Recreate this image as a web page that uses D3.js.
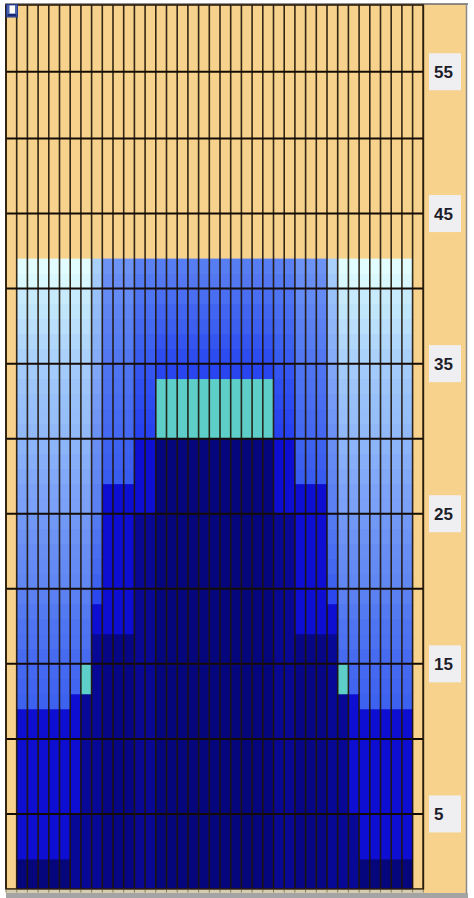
<!DOCTYPE html>
<html>
<head>
<meta charset="utf-8">
<script src="https://cdn.jsdelivr.net/npm/d3@7/dist/d3.min.js"></script>
<style>
  html, body { margin: 0; padding: 0; background: #ffffff; }
  svg { display: block; }
</style>
</head>
<body>
<svg id="chart" width="474" height="898"></svg>
<script>
// ---- data ---------------------------------------------------------------
// Grid: 39 columns (0 and 38 stay empty), heights in units 0..60.
const columnCount = 39;
const yTicksLabelled = [5, 15, 25, 35, 45, 55];
const yGridLines = [5, 10, 15, 20, 25, 30, 35, 40, 45, 50, 55];

// Level per unit row for the graded upper zones (0 = navy ... 10 = pale cyan)
const rampOuter = [3.0, 3.1, 3.2, 3.3, 3.5, 3.6, 3.8, 4.0, 4.3, 4.4,
                   4.6, 4.8, 5.0, 5.3, 5.4, 5.6, 5.8, 6.0, 6.2, 6.4,
                   6.5, 6.7, 6.9, 7.2, 7.5, 7.8, 8.1, 8.4, 9.3, 9.8];   // rows 12..41
const rampCol8  = [2.2, 3.0, 3.2, 3.4, 3.6, 3.8, 4.0, 4.1, 4.3, 4.4,
                   4.6, 4.7, 4.9, 5.1, 5.3, 5.5, 5.7, 5.9, 6.1, 6.3,
                   6.5, 6.9, 7.2];                                      // rows 19..41
const rampMid   = [2.8, 2.9, 3.0, 3.2, 3.3, 3.4, 3.5, 3.6, 3.7, 3.9,
                   4.0, 4.2, 4.4, 4.6, 4.8];                            // rows 27..41
const rampInner = [2.0, 2.1, 2.3, 2.4, 2.6, 2.8, 3.0, 3.2, 3.4, 3.6,
                   3.8, 4.0];                                           // rows 30..41
const rampCore  = [2.1, 2.3, 2.6, 2.9, 3.1, 3.4, 3.7, 3.9];             // rows 34..41

// Column stacks, bottom to top: solid levels or graded ramps
const stackOuter = [{from: 0, to: 2, level: 0}, {from: 2, to: 12, level: 1}, {from: 12, ramp: rampOuter}];
const stackCol6  = [{from: 0, to: 5, level: 0.3}, {from: 5, to: 13, level: 1}, {from: 13, ramp: rampOuter.slice(1)}];
const stackCol7  = [{from: 0, to: 13, level: 0.3}, {from: 13, to: 15, level: "teal"}, {from: 15, ramp: rampOuter.slice(3)}];
const stackCol8  = [{from: 0, to: 17, level: 0.3}, {from: 17, to: 19, level: 1}, {from: 19, ramp: rampCol8}];
const stackMid   = [{from: 0, to: 17, level: 0.1}, {from: 17, to: 27, level: 1}, {from: 27, ramp: rampMid}];
const stackInner = [{from: 0, to: 25, level: 0.25}, {from: 25, to: 30, level: 1}, {from: 30, ramp: rampInner}];
const stackCore  = [{from: 0, to: 30, level: 0}, {from: 30, to: 34, level: "teal"}, {from: 34, ramp: rampCore}];

// Columns 1..19 (the right half, 20..37, mirrors these)
const halfColumns = [stackOuter, stackOuter, stackOuter, stackOuter, stackOuter,
                     stackCol6, stackCol7, stackCol8,
                     stackMid, stackMid, stackMid,
                     stackInner, stackInner,
                     stackCore, stackCore, stackCore, stackCore, stackCore, stackCore];

// ---- colours ------------------------------------------------------------
const tan = "#f6d28c";
const teal = "#5ecfc8";
const levelColor = d3.scaleLinear()
  .domain([0, 1, 2, 3, 4, 5, 6, 7, 8, 9, 10])
  .range(["#06067c", "#0e0ed2", "#2642f0", "#3e62f0", "#5a80f2", "#7298f6",
          "#8cb4f8", "#a4ccfa", "#bee4fc", "#d4f6fe", "#e4ffff"])
  .interpolate(d3.interpolateRgb);

// ---- scales -------------------------------------------------------------
const x = d3.scaleLinear().domain([0, columnCount]).range([6, 423.3]);
const y = d3.scaleLinear().domain([0, 50, 60]).range([889, 138.5, 5]);

const svg = d3.select("#chart");

// panel background and frame
svg.append("rect").attr("x", 6).attr("y", 4).attr("width", 461).attr("height", 889).attr("fill", tan);
svg.append("line").attr("x1", 5).attr("x2", 468).attr("y1", 4).attr("y2", 4)
  .attr("stroke", "#6a6a6a").attr("stroke-width", 1.5);
svg.append("line").attr("x1", 466.5).attr("x2", 466.5).attr("y1", 4).attr("y2", 893)
  .attr("stroke", "#8a8a8a").attr("stroke-width", 1.5);

// ---- cells --------------------------------------------------------------
const cells = [];
for (let c = 1; c < columnCount - 1; c++) {
  const stack = halfColumns[Math.min(c, columnCount - 1 - c) - 1];
  stack.forEach(seg => {
    if (seg.ramp) {
      seg.ramp.forEach((lv, i) => cells.push({col: c, u0: seg.from + i, u1: seg.from + i + 1, level: lv}));
    } else {
      cells.push({col: c, u0: seg.from, u1: seg.to, level: seg.level});
    }
  });
}

svg.append("g").selectAll("rect").data(cells).join("rect")
  .attr("x", d => x(d.col))
  .attr("width", d => x(d.col + 1) - x(d.col) + 0.3)
  .attr("y", d => y(d.u1))
  .attr("height", d => y(d.u0) - y(d.u1) + 0.4)
  .attr("fill", d => d.level === "teal" ? teal : levelColor(d.level));

// ---- grid ---------------------------------------------------------------
const grid = svg.append("g");
grid.selectAll("line.v").data(d3.range(0, columnCount + 1)).join("line")
  .attr("class", "v")
  .attr("x1", d => x(d)).attr("x2", d => x(d))
  .attr("y1", y(60)).attr("y2", y(0))
  .attr("stroke", "#1e1408").attr("stroke-width", 1.6).attr("stroke-opacity", 0.9);
grid.selectAll("line.h").data(yGridLines).join("line")
  .attr("class", "h")
  .attr("x1", x(0)).attr("x2", x(columnCount))
  .attr("y1", d => y(d)).attr("y2", d => y(d))
  .attr("stroke", "#140c04").attr("stroke-width", 2);
// plot border
svg.append("rect").attr("x", x(0)).attr("y", y(60))
  .attr("width", x(columnCount) - x(0)).attr("height", y(0) - y(60))
  .attr("fill", "none").attr("stroke", "#2a1c0c").attr("stroke-width", 1.6);

// ---- bottom strip with small ticks ----------------------------------------
svg.append("rect").attr("x", x(0)).attr("y", y(0) + 0.8).attr("width", x(columnCount) - x(0)).attr("height", 4)
  .attr("fill", "#d6ccb0");
svg.append("g").selectAll("line").data(d3.range(0, columnCount + 1)).join("line")
  .attr("x1", d => x(d)).attr("x2", d => x(d))
  .attr("y1", y(0) + 1).attr("y2", y(0) + 3.5)
  .attr("stroke", "#8a7a5a").attr("stroke-width", 1);
svg.append("rect").attr("x", 6).attr("y", 893).attr("width", 462).attr("height", 5).attr("fill", "#a4a4a4");

// ---- right-hand labels ----------------------------------------------------
const labels = svg.append("g");
labels.selectAll("rect").data(yTicksLabelled).join("rect")
  .attr("x", 429).attr("y", d => y(d) - 18.5)
  .attr("width", 32).attr("height", 37)
  .attr("fill", "#efeff2");
labels.selectAll("text").data(yTicksLabelled).join("text")
  .attr("x", 434).attr("y", d => y(d) + 6.5)
  .attr("font-family", "'Liberation Sans', Arial, sans-serif")
  .attr("font-weight", "bold").attr("font-size", 17)
  .attr("fill", "#1e1e2a")
  .text(d => d);

// ---- small window icon in the corner ------------------------------------
const icon = svg.append("g");
icon.append("rect").attr("x", 6.5).attr("y", 4.5).attr("width", 11).attr("height", 12.5)
  .attr("fill", "#4a62ac").attr("stroke", "#26388a").attr("stroke-width", 1);
icon.append("rect").attr("x", 9.5).attr("y", 5.5).attr("width", 5.5).attr("height", 8)
  .attr("fill", "#ffffff");
icon.append("rect").attr("x", 7.5).attr("y", 14).attr("width", 9).attr("height", 2.2)
  .attr("fill", "#1a2a7a");
</script>
</body>
</html>
